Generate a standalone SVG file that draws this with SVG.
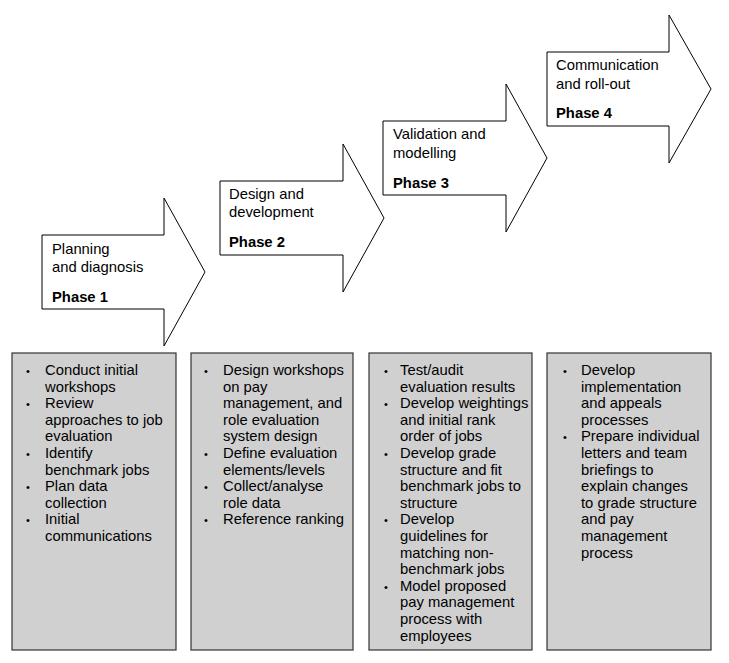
<svg xmlns="http://www.w3.org/2000/svg" width="729" height="663" viewBox="0 0 729 663">
<style>
.arrow{fill:#fff;stroke:#000;stroke-width:1}
.box{fill:#d0d0d0;stroke:#333;stroke-width:1.2}
text{font-family:"Liberation Sans",Arial,Helvetica,sans-serif;font-size:14.8px;fill:#000}
.ph{font-weight:bold}
.b{font-size:11px;text-anchor:middle}
</style>
<rect width="729" height="663" fill="#fff"/>
<g id="phase1">
<polygon class="arrow" points="42,235 164,235 164,198 205,272 164,346 164,309 42,309"/>
<text x="52" y="254">Planning</text>
<text x="52" y="272">and diagnosis</text>
<text class="ph" x="52" y="302">Phase 1</text>
</g>
<g id="phase2">
<polygon class="arrow" points="220,181 343,181 343,144 384,218 343,292 343,255 220,255"/>
<text x="229" y="199">Design and</text>
<text x="229" y="217">development</text>
<text class="ph" x="229" y="247">Phase 2</text>
</g>
<g id="phase3">
<polygon class="arrow" points="383,121 506,121 506,84 547,158 506,232 506,195 383,195"/>
<text x="393" y="139">Validation and</text>
<text x="393" y="158">modelling</text>
<text class="ph" x="393" y="188">Phase 3</text>
</g>
<g id="phase4">
<polygon class="arrow" points="547,52 669,52 669,15 711,89 669,163 669,126 547,126"/>
<text x="556" y="70">Communication</text>
<text x="556" y="89">and roll-out</text>
<text class="ph" x="556" y="118">Phase 4</text>
</g>
<g id="box1">
<rect class="box" x="12" y="353" width="164" height="297"/>
<text class="b" x="28"><tspan x="28" y="375">•</tspan><tspan x="28" y="408.2">•</tspan><tspan x="28" y="458">•</tspan><tspan x="28" y="491.2">•</tspan><tspan x="28" y="524.4">•</tspan></text>
<text x="45" y="375">Conduct initial<tspan x="45" dy="16.6">workshops</tspan><tspan x="45" dy="16.6">Review</tspan><tspan x="45" dy="16.6">approaches to job</tspan><tspan x="45" dy="16.6">evaluation</tspan><tspan x="45" dy="16.6">Identify</tspan><tspan x="45" dy="16.6">benchmark jobs</tspan><tspan x="45" dy="16.6">Plan data</tspan><tspan x="45" dy="16.6">collection</tspan><tspan x="45" dy="16.6">Initial</tspan><tspan x="45" dy="16.6">communications</tspan></text>
</g>
<g id="box2">
<rect class="box" x="191" y="353" width="162" height="297"/>
<text class="b"><tspan x="206" y="375">•</tspan><tspan x="206" y="458">•</tspan><tspan x="206" y="491.2">•</tspan><tspan x="206" y="524.4">•</tspan></text>
<text x="223" y="375">Design workshops<tspan x="223" dy="16.6">on pay</tspan><tspan x="223" dy="16.6">management, and</tspan><tspan x="223" dy="16.6">role evaluation</tspan><tspan x="223" dy="16.6">system design</tspan><tspan x="223" dy="16.6">Define evaluation</tspan><tspan x="223" dy="16.6">elements/levels</tspan><tspan x="223" dy="16.6">Collect/analyse</tspan><tspan x="223" dy="16.6">role data</tspan><tspan x="223" dy="16.6">Reference ranking</tspan></text>
</g>
<g id="box3">
<rect class="box" x="369" y="353" width="163" height="297"/>
<text class="b"><tspan x="386" y="375">•</tspan><tspan x="386" y="408.2">•</tspan><tspan x="386" y="458">•</tspan><tspan x="386" y="524.4">•</tspan><tspan x="386" y="590.8">•</tspan></text>
<text x="400" y="375">Test/audit<tspan x="400" dy="16.6">evaluation results</tspan><tspan x="400" dy="16.6">Develop weightings</tspan><tspan x="400" dy="16.6">and initial rank</tspan><tspan x="400" dy="16.6">order of jobs</tspan><tspan x="400" dy="16.6">Develop grade</tspan><tspan x="400" dy="16.6">structure and fit</tspan><tspan x="400" dy="16.6">benchmark jobs to</tspan><tspan x="400" dy="16.6">structure</tspan><tspan x="400" dy="16.6">Develop</tspan><tspan x="400" dy="16.6">guidelines for</tspan><tspan x="400" dy="16.6">matching non-</tspan><tspan x="400" dy="16.6">benchmark jobs</tspan><tspan x="400" dy="16.6">Model proposed</tspan><tspan x="400" dy="16.6">pay management</tspan><tspan x="400" dy="16.6">process with</tspan><tspan x="400" dy="16.6">employees</tspan></text>
</g>
<g id="box4">
<rect class="box" x="547" y="353" width="164" height="297"/>
<text class="b"><tspan x="565" y="375">•</tspan><tspan x="565" y="441.4">•</tspan></text>
<text x="581" y="375">Develop<tspan x="581" dy="16.6">implementation</tspan><tspan x="581" dy="16.6">and appeals</tspan><tspan x="581" dy="16.6">processes</tspan><tspan x="581" dy="16.6">Prepare individual</tspan><tspan x="581" dy="16.6">letters and team</tspan><tspan x="581" dy="16.6">briefings to</tspan><tspan x="581" dy="16.6">explain changes</tspan><tspan x="581" dy="16.6">to grade structure</tspan><tspan x="581" dy="16.6">and pay</tspan><tspan x="581" dy="16.6">management</tspan><tspan x="581" dy="16.6">process</tspan></text>
</g>
<g id="connectors"></g>
</svg>
